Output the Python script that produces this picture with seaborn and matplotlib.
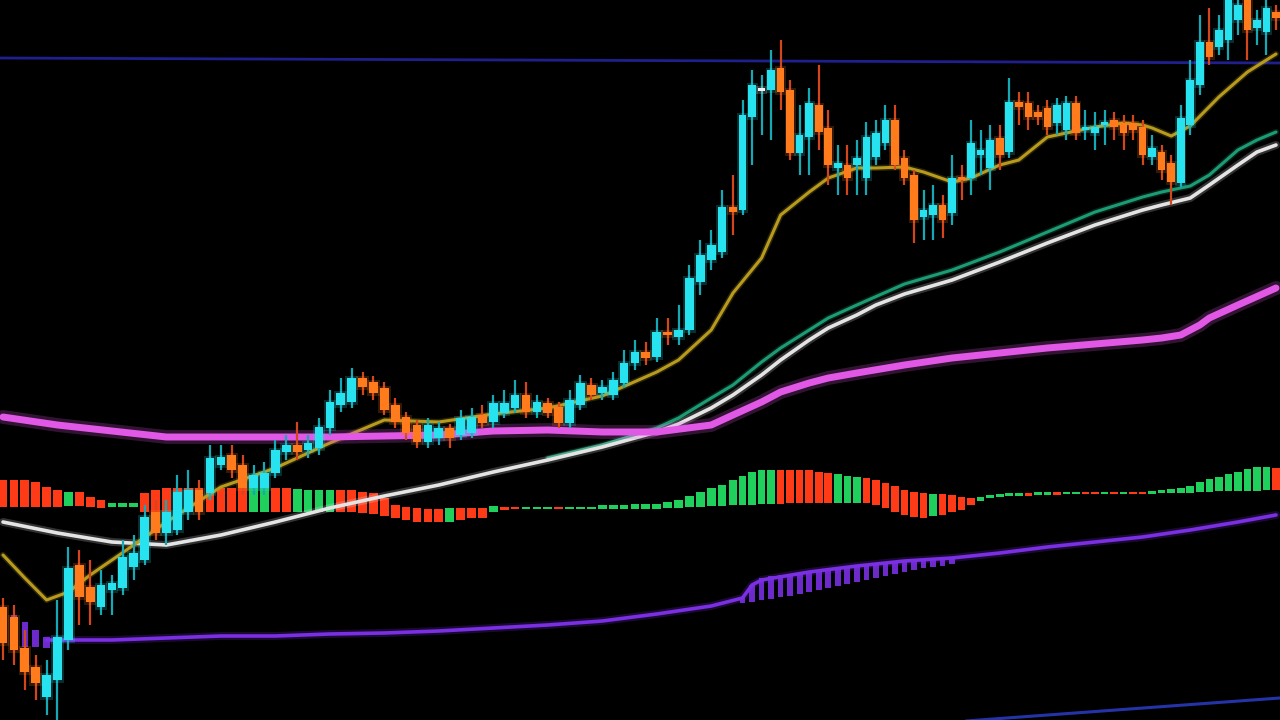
import numpy as np
import pandas as pd
import matplotlib
matplotlib.use("Agg")
import matplotlib.pyplot as plt
import seaborn as sns

# ---------------- data (price levels) ----------------
open_ = [113, 103, 72, 53, 23, 40, 80, 155, 133, 113,
         130, 132, 153, 160, 208, 187, 190, 208, 230, 227,
         255, 265, 255, 232, 232, 247, 268, 275, 270, 272,
         292, 315, 318, 342, 338, 332, 315, 303, 295, 278,
         282, 292, 285, 287, 305, 298, 307, 312, 325, 308,
         317, 313, 297, 315, 335, 327, 325, 337, 357, 368,
         363, 388, 383, 390, 438, 460, 468, 513, 510, 603,
         629, 630, 652, 630, 567, 583, 615, 592, 552, 555,
         555, 542, 563, 577, 600, 562, 545, 503, 505, 515,
         507, 543, 542, 565, 552, 582, 568, 618, 617, 608,
         612, 597, 590, 617, 590, 587, 595, 600, 597, 597,
         593, 563, 568, 557, 537, 595, 635, 678, 673, 680,
         700, 740, 692, 688, 708]
close = [77, 70, 48, 37, 45, 83, 152, 123, 118, 135,
         137, 163, 167, 203, 187, 208, 228, 230, 208, 262,
         263, 250, 232, 245, 247, 270, 275, 268, 277, 293,
         318, 327, 342, 333, 327, 310, 298, 287, 278, 295,
         292, 282, 302, 303, 297, 317, 317, 325, 308, 318,
         307, 297, 320, 337, 325, 333, 340, 357, 368, 362,
         388, 385, 390, 442, 465, 475, 513, 508, 605, 635,
         631, 650, 628, 567, 585, 617, 588, 555, 557, 542,
         562, 583, 587, 600, 555, 542, 500, 510, 515, 500,
         542, 540, 577, 570, 580, 565, 618, 613, 603, 603,
         593, 615, 617, 587, 593, 593, 598, 593, 587, 590,
         565, 572, 550, 538, 602, 640, 678, 663, 690, 730,
         715, 690, 700, 712, 702]
high = [122, 115, 90, 65, 60, 120, 173, 170, 160, 150,
        145, 180, 185, 215, 220, 220, 245, 250, 240, 275,
        275, 275, 265, 255, 258, 280, 285, 298, 285, 302,
        330, 342, 352, 348, 344, 338, 322, 308, 300, 302,
        298, 296, 310, 312, 315, 325, 330, 340, 338, 325,
        322, 318, 330, 345, 342, 340, 348, 370, 380, 378,
        402, 402, 415, 455, 480, 490, 530, 545, 620, 650,
        645, 670, 680, 640, 615, 632, 655, 610, 575, 575,
        580, 598, 600, 615, 615, 570, 550, 530, 535, 525,
        565, 555, 600, 590, 595, 595, 642, 628, 628, 615,
        620, 622, 624, 624, 610, 608, 610, 608, 605, 605,
        600, 585, 575, 565, 615, 660, 705, 712, 705, 740,
        725, 750, 710, 720, 715]
low = [60, 55, 30, 20, 5, 0, 70, 95, 95, 105,
       105, 125, 140, 155, 180, 175, 185, 200, 200, 220,
       250, 242, 225, 225, 225, 242, 260, 260, 262, 265,
       285, 308, 312, 325, 320, 305, 292, 280, 272, 272,
       275, 272, 280, 282, 292, 292, 302, 307, 302, 302,
       302, 292, 292, 310, 320, 320, 320, 332, 350, 355,
       358, 375, 375, 385, 425, 450, 462, 485, 505, 555,
       585, 580, 610, 560, 545, 545, 570, 535, 525, 525,
       525, 525, 555, 570, 550, 535, 477, 480, 480, 482,
       495, 520, 525, 545, 530, 550, 562, 595, 590, 595,
       585, 585, 580, 580, 580, 570, 575, 580, 570, 580,
       555, 555, 540, 515, 532, 585, 625, 655, 665, 660,
       685, 660, 675, 665, 690]

# moving averages (sampled at candle indices)
ma_fast_idx = [0, 2, 4, 6, 8, 10, 12, 15, 20, 25, 30, 35, 40, 45, 50, 55, 60, 62, 65,
               67, 70, 72, 75, 77, 80, 82, 85, 87, 90, 92, 95, 97, 100, 102, 105, 108,
               110, 111, 113, 115, 118, 121, 124]
ma_fast = [165, 142, 120, 128, 145, 160, 175, 198, 233, 252, 277, 300, 298, 306, 312,
           324, 348, 360, 390, 427, 462, 505, 528, 542, 552, 552, 553, 548, 538, 542,
           555, 560, 583, 587, 593, 597, 595, 592, 584, 594, 623, 648, 666]

ma_slow_idx = [0, 5, 10, 15, 20, 25, 30, 35, 40, 45, 50, 55, 60, 62, 65, 67, 70, 72, 75,
               77, 80, 82, 85, 90, 95, 100, 105, 110, 112, 115, 117, 120, 122, 124]
ma_slow = [198, 187, 178, 175, 185, 198, 212, 224, 235, 248, 260, 273, 288, 296, 312,
           325, 345, 360, 380, 392, 405, 415, 426, 440, 458, 477, 495, 510, 515, 522,
           535, 555, 568, 575]

ma_mid_idx = [50, 55, 60, 62, 65, 67, 70, 72, 75, 77, 80, 85, 90, 95, 100, 105, 110,
              112, 115, 117, 120, 122, 124]
ma_mid = [262, 275, 292, 302, 322, 335, 358, 372, 390, 402, 415, 436, 450, 468, 488,
          508, 523, 528, 534, 545, 570, 580, 588]

band_idx = [0, 5, 10, 15, 20, 25, 30, 35, 40, 45, 50, 55, 60, 65, 67, 70, 72, 75, 77,
            80, 85, 90, 95, 100, 105, 110, 112, 114, 116, 117, 120, 124]
band = [303, 295, 289, 283, 283, 283, 283, 284, 285, 289, 290, 288, 288, 295, 305, 318,
        328, 337, 342, 347, 355, 362, 367, 372, 376, 380, 382, 385, 395, 402, 415, 432]

sig_idx = [4, 10, 15, 20, 25, 30, 35, 40, 45, 50, 55, 60, 65, 68, 69, 70, 75, 80, 85,
           90, 95, 100, 105, 110, 115, 120, 124]
sig = [80, 80, 82, 84, 84, 86, 87, 89, 92, 95, 99, 106, 114, 122, 135, 140, 148, 154,
       159, 162, 167, 173, 178, 183, 190, 198, 205]

sig_hist_idx = [1, 2, 3, 4] + list(range(68, 91))
sig_hist_hi = [105, 98, 90, 83, 122, 135, 142, 144, 145, 146, 147, 148, 149, 150, 151,
               153, 154, 155, 156, 157, 158, 159, 159, 160, 160, 161, 162]
sig_hist_lo = [75, 73, 73, 72, 117, 118, 120, 121, 123, 124, 126, 128, 130, 132, 134,
               136, 138, 140, 142, 144, 146, 148, 150, 152, 153, 154, 156]

macd_hi = [240, 240, 240, 238, 233, 230, 228, 228, 223, 220,
           217, 217, 217, 227, 230, 232, 232, 232, 232, 232,
           232, 232, 232, 232, 232, 232, 232, 231, 230, 230,
           230, 230, 230, 228, 227, 222, 215, 213, 212, 211,
           211, 212, 212, 212, 212, 214, 213, 213, 213, 213,
           213, 213, 213, 213, 213, 215, 215, 215, 216, 216,
           216, 218, 220, 224, 228, 232, 235, 240, 244, 248,
           250, 250, 250, 250, 250, 250, 248, 247, 246, 244,
           243, 242, 240, 237, 234, 230, 228, 227, 226, 226,
           225, 223, 222, 223, 225, 226, 227, 227, 227, 228,
           228, 228, 228, 228, 228, 228, 228, 228, 228, 228,
           228, 229, 230, 231, 232, 234, 238, 241, 243, 246,
           248, 251, 253, 253, 252]
macd_lo = [213, 213, 213, 213, 213, 213, 214, 214, 213, 212,
           213, 213, 213, 208, 208, 208, 208, 208, 208, 208,
           208, 208, 208, 208, 208, 208, 208, 208, 208, 208,
           208, 208, 208, 207, 206, 204, 202, 200, 198, 198,
           198, 198, 200, 202, 202, 208, 210, 211, 211, 211,
           211, 211, 211, 211, 211, 211, 211, 211, 211, 211,
           211, 212, 212, 213, 213, 214, 214, 215, 215, 215,
           216, 216, 216, 217, 217, 217, 217, 217, 217, 217,
           217, 217, 215, 212, 208, 205, 203, 202, 204, 205,
           208, 210, 215, 219, 222, 223, 224, 224, 224, 225,
           225, 225, 226, 226, 226, 226, 226, 226, 226, 226,
           226, 226, 227, 227, 227, 227, 228, 228, 229, 229,
           229, 229, 229, 230, 230]
macd_col = ("rrrrrr" "g" "rrr" "ggg" "rrrrrrrrrr" "gg" "rr" "gggg" "rrrrrrrrrr" "g" "rrr"
            "g" "rr" "ggg" "r" "gggggggggggggggggggg" "rrrrrr" "ggg" "rrrrrrr" "g" "rrrr"
            "ggggg" "r" "gg" "r" "gg" "rr" "g" "r" "g" "rr" "ggggggggggggg" "r")

level_idx = [-0.3, 124.4]
level = [662, 657]
trend_idx = [90, 124.4]
trend = [-2, 22]

# ---------------- style ----------------
sns.set_theme(style="dark")
BG = "#000000"
CYAN, CYAN_W = "#27e2ef", "#14a9b4"
ORANGE, ORANGE_W = "#ff7b1c", "#d2461a"
RED, GREEN = "#ff3a16", "#1fd05c"
GOLD, TEAL, WHITE = "#b89b1d", "#1c9c74", "#e4e4e4"
MAGENTA, PURPLE = "#e258e6", "#7a2fe2"
NAVY, BLUE = "#1f1f8e", "#2434a8"

fig = plt.figure(figsize=(12.8, 7.2), dpi=100, facecolor=BG)
ax = fig.add_axes([0, 0, 1, 1])
ax.set_facecolor(BG)

idx = np.arange(len(open_))
o = np.array(open_, float)
c = np.array(close, float)


def line(xs, ys, color, lw, z, glow=0.0):
    df = pd.DataFrame({"x": xs, "y": ys})
    if glow:
        sns.lineplot(data=df, x="x", y="y", ax=ax, color=color, lw=lw * glow,
                     alpha=0.22, zorder=z - 0.1, legend=False)
    line_ = sns.lineplot(data=df, x="x", y="y", ax=ax, color=color, lw=lw, zorder=z,
                         legend=False)
    for ln in ax.get_lines()[-2:]:
        ln.set_solid_joinstyle("round")
        ln.set_solid_capstyle("round")
    return line_


# horizontal level & lower trend line
line(level_idx, level, NAVY, 2.0, 1)
line(trend_idx, trend, BLUE, 2.2, 1)

# purple signal line + its histogram
line(sig_idx, sig, PURPLE, 2.6, 2, glow=2.2)
sh = np.array(sig_hist_hi, float) - np.array(sig_hist_lo, float)
ax.bar(sig_hist_idx, sh, bottom=sig_hist_lo, width=0.6, color=PURPLE, alpha=0.9,
       zorder=2, linewidth=0)

# MACD histogram
mcols = [GREEN if ch == "g" else RED for ch in macd_col]
mh = np.array(macd_hi, float) - np.array(macd_lo, float)
ax.bar(idx, mh, bottom=macd_lo, width=0.8, color=mcols, zorder=3, linewidth=0)

# averages
line(ma_mid_idx, ma_mid, TEAL, 2.2, 4, glow=2.0)
line(ma_slow_idx, ma_slow, WHITE, 2.6, 4.2, glow=2.2)
line(ma_fast_idx, ma_fast, GOLD, 2.2, 4.4, glow=2.0)
line(band_idx, band, MAGENTA, 5.0, 4.6, glow=2.0)

# candles
up = c >= o
doji = np.abs(c - o) <= 2
body_col = np.where(doji, "#f2f2f2", np.where(up, CYAN, ORANGE))
wick_col = np.where(up, CYAN_W, ORANGE_W)
ax.vlines(idx, low, high, colors=wick_col, lw=1.6, zorder=5)
bh = np.maximum(np.abs(c - o), 3.0)
bb = np.minimum(o, c)
ax.bar(idx, bh + 5, bottom=bb - 2.5, width=1.15, color=body_col, alpha=0.2, zorder=5.2,
       linewidth=0)
ax.bar(idx, bh, bottom=bb, width=0.8, color=body_col, zorder=5.5, linewidth=0)

# slight perspective of the photographed screen: spacing tightens to the right
K0, K1, K2 = 0.0, 67.0, 124.0
P0, P1, P2 = 3.0, 733.0, 1276.0
s1 = (P1 - P0) / (K1 - K0)
s2 = (P2 - P1) / (K2 - K1)


def fwd(x):
    x = np.asarray(x, float)
    return np.where(x <= K1, P0 + (x - K0) * s1, P1 + (x - K1) * s2)


def inv(p):
    p = np.asarray(p, float)
    return np.where(p <= P1, K0 + (p - P0) / s1, K1 + (p - P1) / s2)


ax.set_xscale("function", functions=(fwd, inv))
ax.set_xlim(float(inv(0.0)), float(inv(1280.0)))
ax.set_ylim(0, 720)
ax.set_axis_off()

fig.savefig("out.png", dpi=100, facecolor=BG)
